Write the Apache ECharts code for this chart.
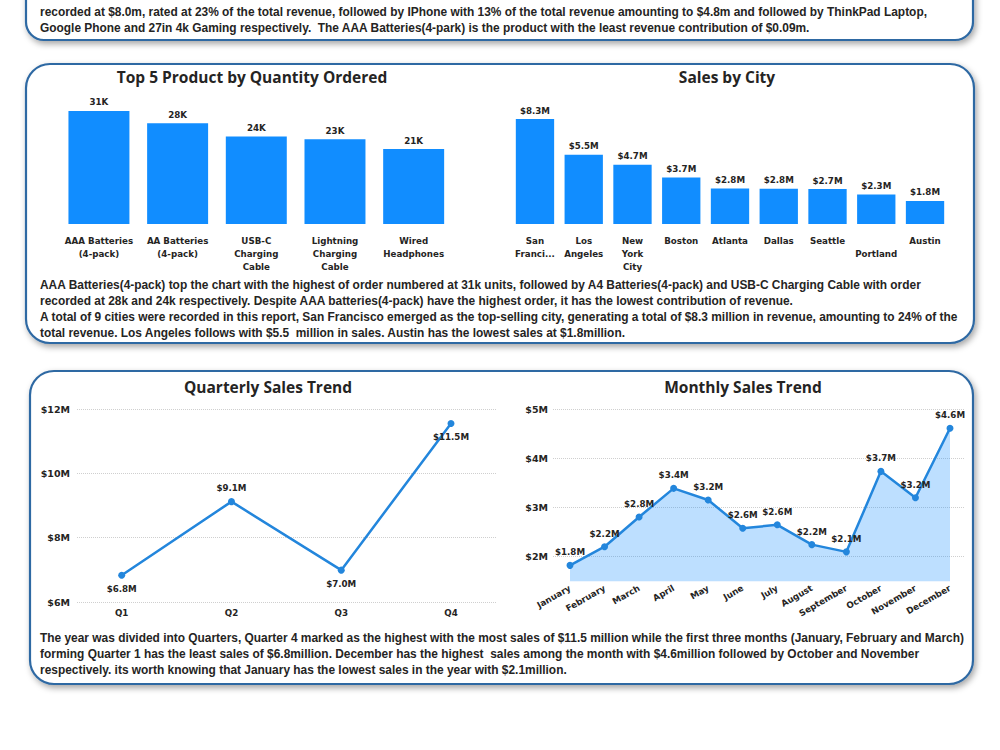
<!DOCTYPE html>
<html>
<head>
<meta charset="utf-8">
<script src="https://cdn.jsdelivr.net/npm/echarts@6/dist/echarts.min.js"></script>
<style>
html,body{margin:0;padding:0;background:#fff;}
#main{width:1000px;height:750px;}
</style>
</head>
<body>
<div id="main"></div>
<script>
// ---------- DATA ----------
const productNames = ['AAA Batteries (4-pack)', 'AA Batteries (4-pack)', 'USB-C Charging Cable', 'Lightning Charging Cable', 'Wired Headphones'];
const productTickLabels = ['AAA Batteries\n(4-pack)', 'AA Batteries\n(4-pack)', 'USB-C\nCharging\nCable', 'Lightning\nCharging\nCable', 'Wired\nHeadphones'];
const productQty = [31017, 27635, 23975, 23217, 20557];

const cities = ['San Francisco', 'Los Angeles', 'New York City', 'Boston', 'Atlanta', 'Dallas', 'Seattle', 'Portland', 'Austin'];
const cityTickLabels = ['San\nFranci...', 'Los\nAngeles', 'New\nYork\nCity', 'Boston', 'Atlanta', 'Dallas', 'Seattle', '\nPortland', 'Austin'];
const citySales = [8262204, 5452571, 4664317, 3661642, 2795499, 2767975, 2747755, 2320491, 1819582];

const quarters = ['Q1', 'Q2', 'Q3', 'Q4'];
const quarterSales = [6831380, 9121079, 6989804, 11549773];
const quarterLabelPos = ['bottom', 'top', 'bottom', 'bottom'];

const months = ['January', 'February', 'March', 'April', 'May', 'June', 'July', 'August', 'September', 'October', 'November', 'December'];
const monthSales = [1822257, 2202022, 2807100, 3390670, 3152607, 2577802, 2647776, 2244468, 2097560, 3736727, 3199603, 4613443];

const titles = ['Top 5 Product by Quantity Ordered', 'Sales by City', 'Quarterly Sales Trend', 'Monthly Sales Trend'];

const topText = [
  'recorded at $8.0m, rated at 23% of the total revenue, followed by IPhone with 13% of the total revenue amounting to $4.8m and followed by ThinkPad Laptop,',
  'Google Phone and 27in 4k Gaming respectively.  The AAA Batteries(4-park) is the product with the least revenue contribution of $0.09m.'
];
const midText = [
  'AAA Batteries(4-pack) top the chart with the highest of order numbered at 31k units, followed by A4 Batteries(4-pack) and USB-C Charging Cable with order',
  'recorded at 28k and 24k respectively. Despite AAA batteries(4-pack) have the highest order, it has the lowest contribution of revenue.',
  'A total of 9 cities were recorded in this report, San Francisco emerged as the top-selling city, generating a total of $8.3 million in revenue, amounting to 24% of the',
  'total revenue. Los Angeles follows with $5.5  million in sales. Austin has the lowest sales at $1.8million.'
];
const bottomText = [
  'The year was divided into Quarters, Quarter 4 marked as the highest with the most sales of $11.5 million while the first three months (January, February and March)',
  'forming Quarter 1 has the least sales of $6.8million. December has the highest  sales among the month with $4.6million followed by October and November',
  'respectively. its worth knowing that January has the lowest sales in the year with $2.1million.'
];

// ---------- STYLE ----------
const BLUE = '#118DFF';
const LINE = '#2386dc';
const DARK = '#252423';
const LBL = 'DejaVu Sans';
const TITLE_FONT = 'Open Sans';
const PARA_FONT_CSS = 'bold 12.5px "Liberation Sans", sans-serif';
const PARA_FIT_WIDTH = 925; // width of the longest text line in the reference

// condensed look for paragraphs: horizontal squeeze so the longest line fits
const mctx = document.createElement('canvas').getContext('2d');
mctx.font = PARA_FONT_CSS;
const longest = Math.max(...[].concat(topText, midText, bottomText).map(t => mctx.measureText(t).width));
const PARA_SCALE = Math.min(1, PARA_FIT_WIDTH / longest);

const fmtK = v => Math.round(v / 1000) + 'K';
const fmtM = v => '$' + (v / 1e6).toFixed(1) + 'M';

const chart = echarts.init(document.getElementById('main'), null, { renderer: 'svg' });

function box(x, y, w, h, r) {
  return {
    type: 'rect', z: 0, silent: true,
    shape: { x: x, y: y, width: w, height: h, r: r },
    style: { fill: '#fff', stroke: '#2f69a3', lineWidth: 2.2, shadowBlur: 6, shadowColor: 'rgba(0,0,0,0.35)', shadowOffsetX: 2, shadowOffsetY: 3 }
  };
}
function title(text, x, y) {
  return { type: 'text', z: 10, x: x, y: y, style: { text: text, fill: DARK, font: 'bold 15.5px ' + TITLE_FONT, align: 'center', verticalAlign: 'middle' } };
}
function para(lines, x, y0, lh) {
  return lines.map((t, i) => ({ type: 'text', z: 10, x: x, y: y0 + i * lh, scaleX: PARA_SCALE,
    style: { text: t, fill: DARK, font: PARA_FONT_CSS, align: 'left', verticalAlign: 'middle' } }));
}

const axisLbl = { color: DARK, fontFamily: LBL, fontWeight: 'bold', fontSize: 8.7 };
const dataLbl = { color: DARK, fontFamily: LBL, fontWeight: 'bold', fontSize: 8.7 };
const hidden = { show: false };
const dotted = { show: true, lineStyle: { type: 'dotted', color: '#cfcfcf', width: 1 } };

const option = {
  animation: false,
  graphic: [
    box(26, -30, 947, 70, 18),
    box(26, 64, 948, 279, 24),
    box(30, 371, 943, 313, 24),
    title(titles[0], 252, 77),
    title(titles[1], 727, 77),
    title(titles[2], 268, 387),
    title(titles[3], 743, 387),
    ...para(topText, 40, 12, 15.5),
    ...para(midText, 40, 285, 16),
    ...para(bottomText, 40, 638, 16)
  ],
  grid: [
    { left: 59.6, width: 393.4, top: 100, height: 124 },          // 0 products
    { left: 510.6, width: 438.8, top: 109.7, height: 114.3 },     // 1 cities
    { left: 77, width: 420, top: 409, height: 193 },              // 2 quarterly gridlines
    { left: 121.7, width: 329.3, top: 409, height: 193 },         // 3 quarterly data
    { left: 553, width: 412, top: 409.3, height: 147.3 },         // 4 monthly gridlines
    { left: 570, width: 380, top: 409.3, height: 171.9 }          // 5 monthly data
  ],
  xAxis: [
    { gridIndex: 0, type: 'category', data: productNames, axisLine: hidden, axisTick: hidden,
      axisLabel: Object.assign({ interval: 0, margin: 10, lineHeight: 13, formatter: (v, i) => productTickLabels[i] }, axisLbl) },
    { gridIndex: 1, type: 'category', data: cities, axisLine: hidden, axisTick: hidden,
      axisLabel: Object.assign({ interval: 0, margin: 10, lineHeight: 13, formatter: (v, i) => cityTickLabels[i] }, axisLbl) },
    { gridIndex: 2, type: 'value', show: false },
    { gridIndex: 3, type: 'category', data: quarters, boundaryGap: false, axisLine: hidden, axisTick: hidden,
      axisLabel: Object.assign({ margin: 6 }, axisLbl) },
    { gridIndex: 4, type: 'value', show: false },
    { gridIndex: 5, type: 'category', data: months, boundaryGap: false, axisLine: hidden, axisTick: hidden,
      axisLabel: Object.assign({ interval: 0, rotate: 30, margin: 6 }, axisLbl) }
  ],
  yAxis: [
    { gridIndex: 0, type: 'value', min: 0, max: 34000, show: false },
    { gridIndex: 1, type: 'value', min: 0, max: 9000000, show: false },
    { gridIndex: 2, type: 'value', min: 6000000, max: 12000000, interval: 2000000, axisLine: hidden, axisTick: hidden,
      splitLine: dotted, axisLabel: Object.assign({ margin: 7, formatter: v => '$' + (v / 1e6) + 'M' }, axisLbl, { fontSize: 9.5 }) },
    { gridIndex: 3, type: 'value', min: 6000000, max: 12000000, show: false, splitLine: hidden },
    { gridIndex: 4, type: 'value', min: 2000000, max: 5000000, interval: 1000000, axisLine: hidden, axisTick: hidden,
      splitLine: dotted, axisLabel: Object.assign({ margin: 5, formatter: v => '$' + (v / 1e6) + 'M' }, axisLbl, { fontSize: 9.5 }) },
    { gridIndex: 5, type: 'value', min: 1500000, max: 5000000, show: false, splitLine: hidden }
  ],
  series: [
    { type: 'bar', xAxisIndex: 0, yAxisIndex: 0, data: productQty, barWidth: '77.5%', itemStyle: { color: BLUE },
      label: Object.assign({ show: true, position: 'top', distance: 4, formatter: p => fmtK(p.value) }, dataLbl) },
    { type: 'bar', xAxisIndex: 1, yAxisIndex: 1, data: citySales, barWidth: '78.6%', itemStyle: { color: BLUE },
      label: Object.assign({ show: true, position: 'top', distance: 4, formatter: p => fmtM(p.value) }, dataLbl) },
    { type: 'line', xAxisIndex: 3, yAxisIndex: 3,
      data: quarterSales.map((v, i) => ({ value: v, label: { position: quarterLabelPos[i] } })),
      symbol: 'circle', symbolSize: 7, lineStyle: { color: LINE, width: 2.5 }, itemStyle: { color: LINE },
      label: Object.assign({ show: true, distance: 6, formatter: p => fmtM(p.value) }, dataLbl) },
    { type: 'line', xAxisIndex: 5, yAxisIndex: 5, data: monthSales,
      symbol: 'circle', symbolSize: 7, lineStyle: { color: LINE, width: 2.5 }, itemStyle: { color: LINE },
      areaStyle: { color: 'rgba(17,141,255,0.4)' },
      label: Object.assign({ show: true, position: 'top', distance: 5, formatter: p => fmtM(p.value) }, dataLbl) }
  ]
};
chart.setOption(option);
</script>
</body>
</html>
